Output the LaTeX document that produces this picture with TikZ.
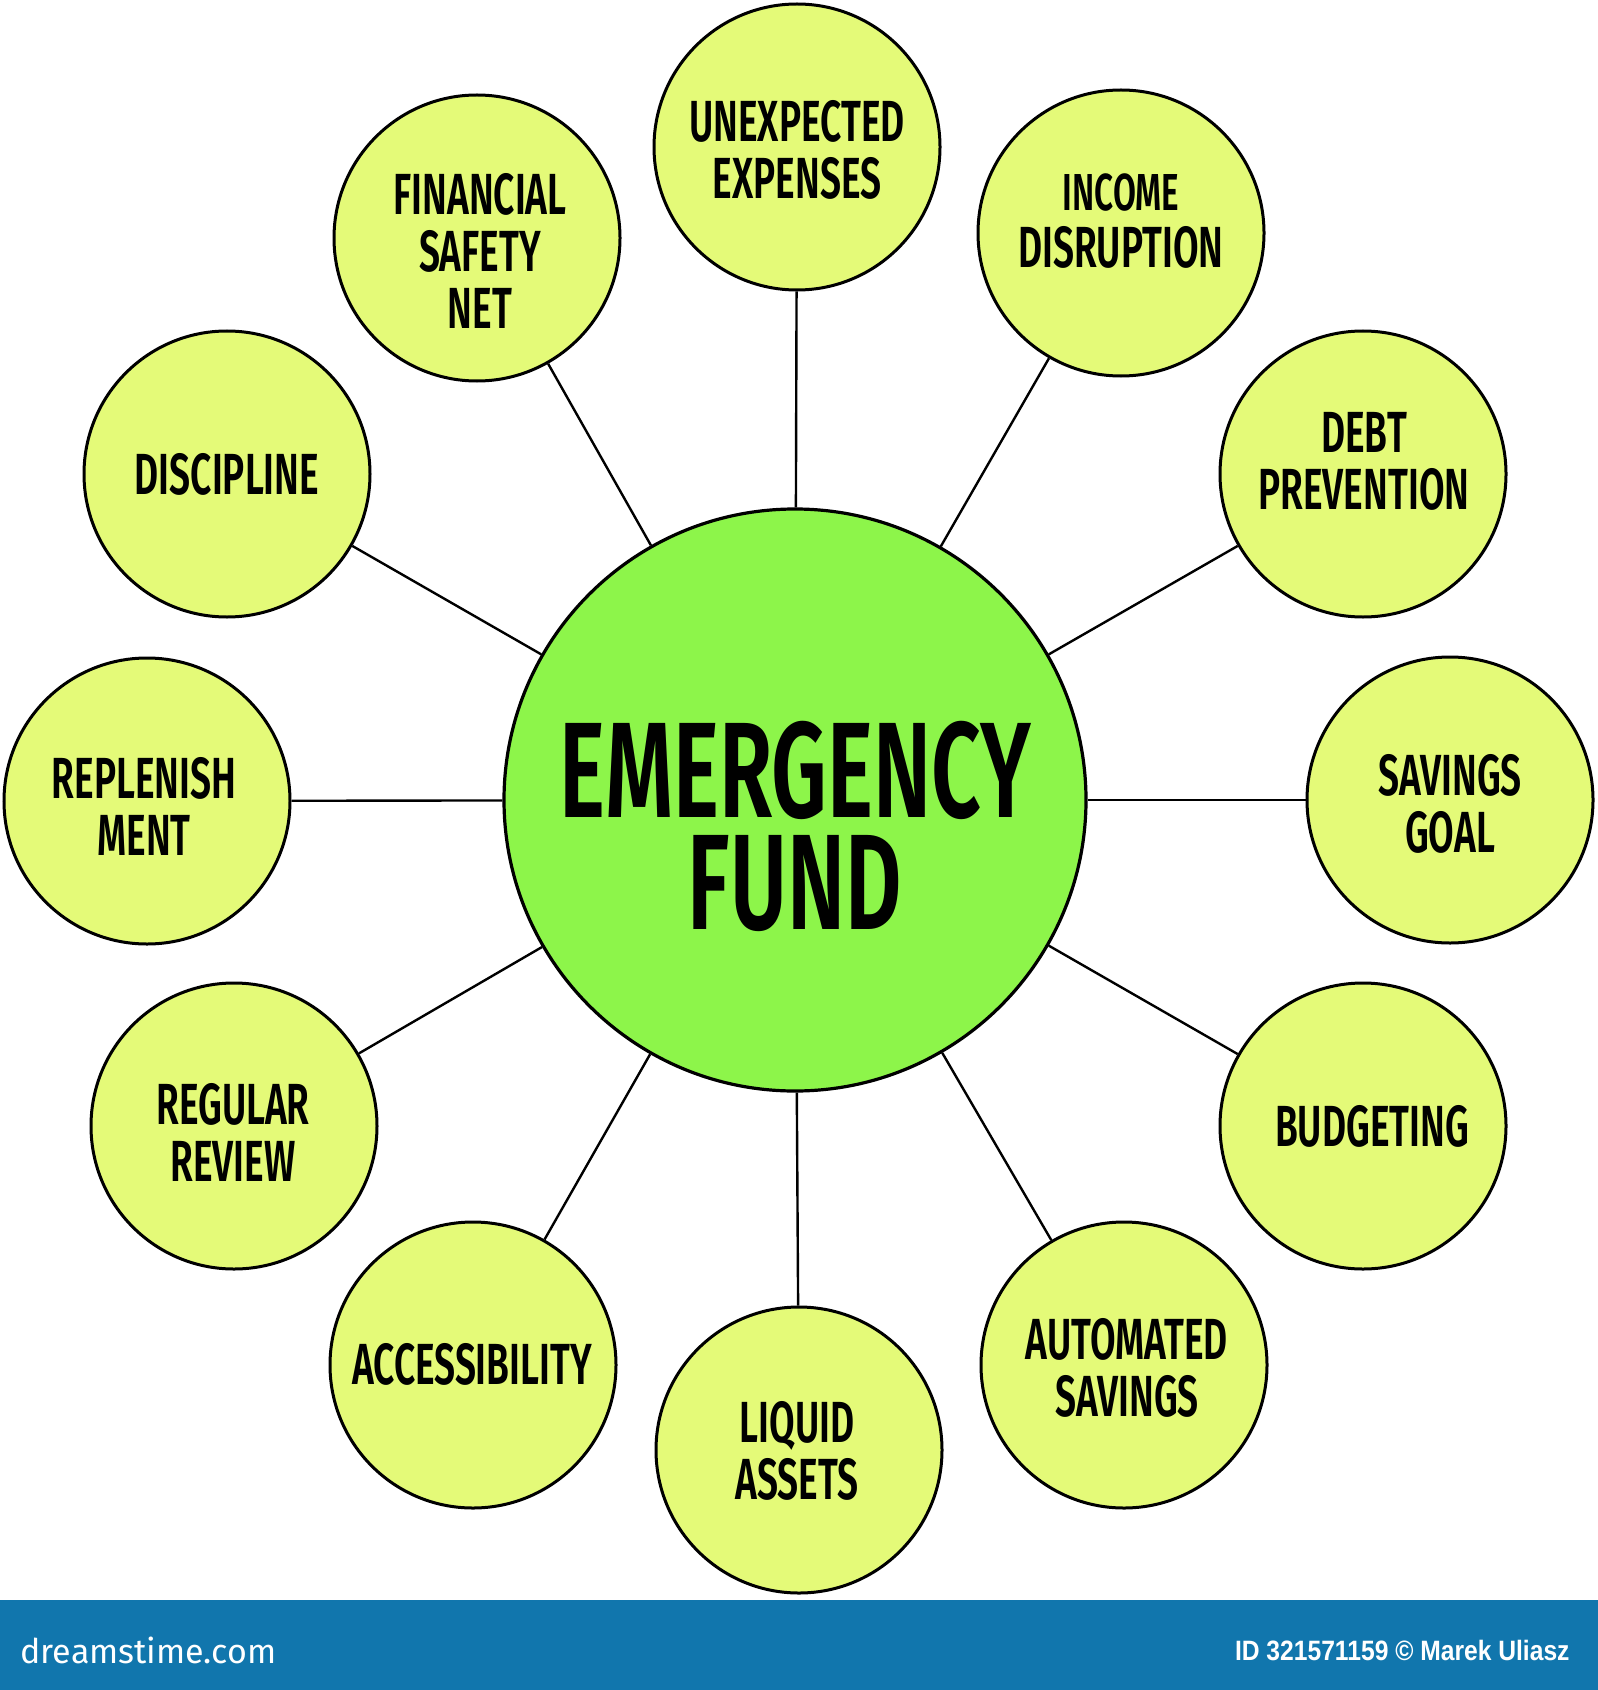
\documentclass[tikz,border=0pt]{standalone}
\usepackage{fontspec}
\newfontfamily\handfont{Fira Sans SemiBold}[FakeStretch=0.64]
\newfontfamily\barfont{Liberation Sans}[FakeStretch=0.88]
\newfontfamily\logofont{Fira Sans}
\definecolor{hubfill}{HTML}{8DF54A}
\definecolor{satfill}{HTML}{E4FA78}
\definecolor{barblue}{HTML}{1176AD}
\begin{document}
\begin{tikzpicture}[x=0.5pt,y=-0.5pt,
  sat/.style={circle,draw=black,line width=1.5pt,fill=satfill,minimum size=143pt,inner sep=0pt},
  hub/.style={circle,draw=black,line width=1.6pt,fill=hubfill,minimum size=291pt,inner sep=0pt},
  satlab/.style={align=center,font=\handfont\fontsize{29}{28.5}\selectfont,inner sep=0pt},
  hublab/.style={align=center,font=\handfont\fontsize{68}{56}\selectfont,inner sep=0pt},
  link/.style={line width=1.2pt,draw=black}]
\useasboundingbox[fill=white] (0,0) rectangle (1598,1690);

\node[hub] (hub) at (795,800) {};
\node[sat] (unexp) at (797,147) {};
\node[sat] (fin) at (477,238) {};
\node[sat] (inc) at (1121,233) {};
\node[sat] (disc) at (227,474) {};
\node[sat] (debt) at (1363,474) {};
\node[sat] (repl) at (147,801) {};
\node[sat] (sav) at (1450,800) {};
\node[sat] (reg) at (234,1126) {};
\node[sat] (bud) at (1363,1126) {};
\node[sat] (acc) at (473,1365) {};
\node[sat] (auto) at (1124,1365) {};
\node[sat] (liq) at (799,1450) {};

\foreach \s in {unexp,fin,inc,disc,debt,repl,sav,reg,bud,acc,auto,liq}
  \draw[link] (hub) -- (\s);

\node[hublab] (thub) at (795,826) {EMERGENCY\\FUND};
\node[satlab] (tunexp) at (797,150) {UNEXPECTED\\EXPENSES};
\node[satlab] (tfin) at (480,251) {FINANCIAL\\SAFETY\\NET};
\node[satlab] (tinc) at (1121,221) {\fontsize{26}{28.5}\selectfont INCOME\\DISRUPTION};
\node[satlab] (tdisc) at (227,474) {DISCIPLINE};
\node[satlab] (tdebt) at (1364,461) {DEBT\\PREVENTION};
\node[satlab] (trepl) at (144,806) {REPLENISH\\MENT};
\node[satlab] (tsav) at (1450,804) {SAVINGS\\GOAL};
\node[satlab] (treg) at (233,1132) {REGULAR\\REVIEW};
\node[satlab] (tbud) at (1372,1126) {BUDGETING};
\node[satlab] (tacc) at (472,1364) {ACCESSIBILITY};
\node[satlab] (tauto) at (1127,1368) {AUTOMATED\\SAVINGS};
\node[satlab] (tliq) at (797,1451) {LIQUID\\ASSETS};

\fill[barblue] (0,1600) rectangle (1598,1690);
\node[text=white,font=\logofont\fontsize{17}{17}\selectfont,anchor=west,inner sep=0pt] (brand) at (20,1650) {dreamstime.com};
\node[text=white,font=\barfont\bfseries\fontsize{14}{14}\selectfont,anchor=east,inner sep=0pt] (credit) at (1570,1650) {ID 321571159 © Marek Uliasz};
\end{tikzpicture}
\end{document}
